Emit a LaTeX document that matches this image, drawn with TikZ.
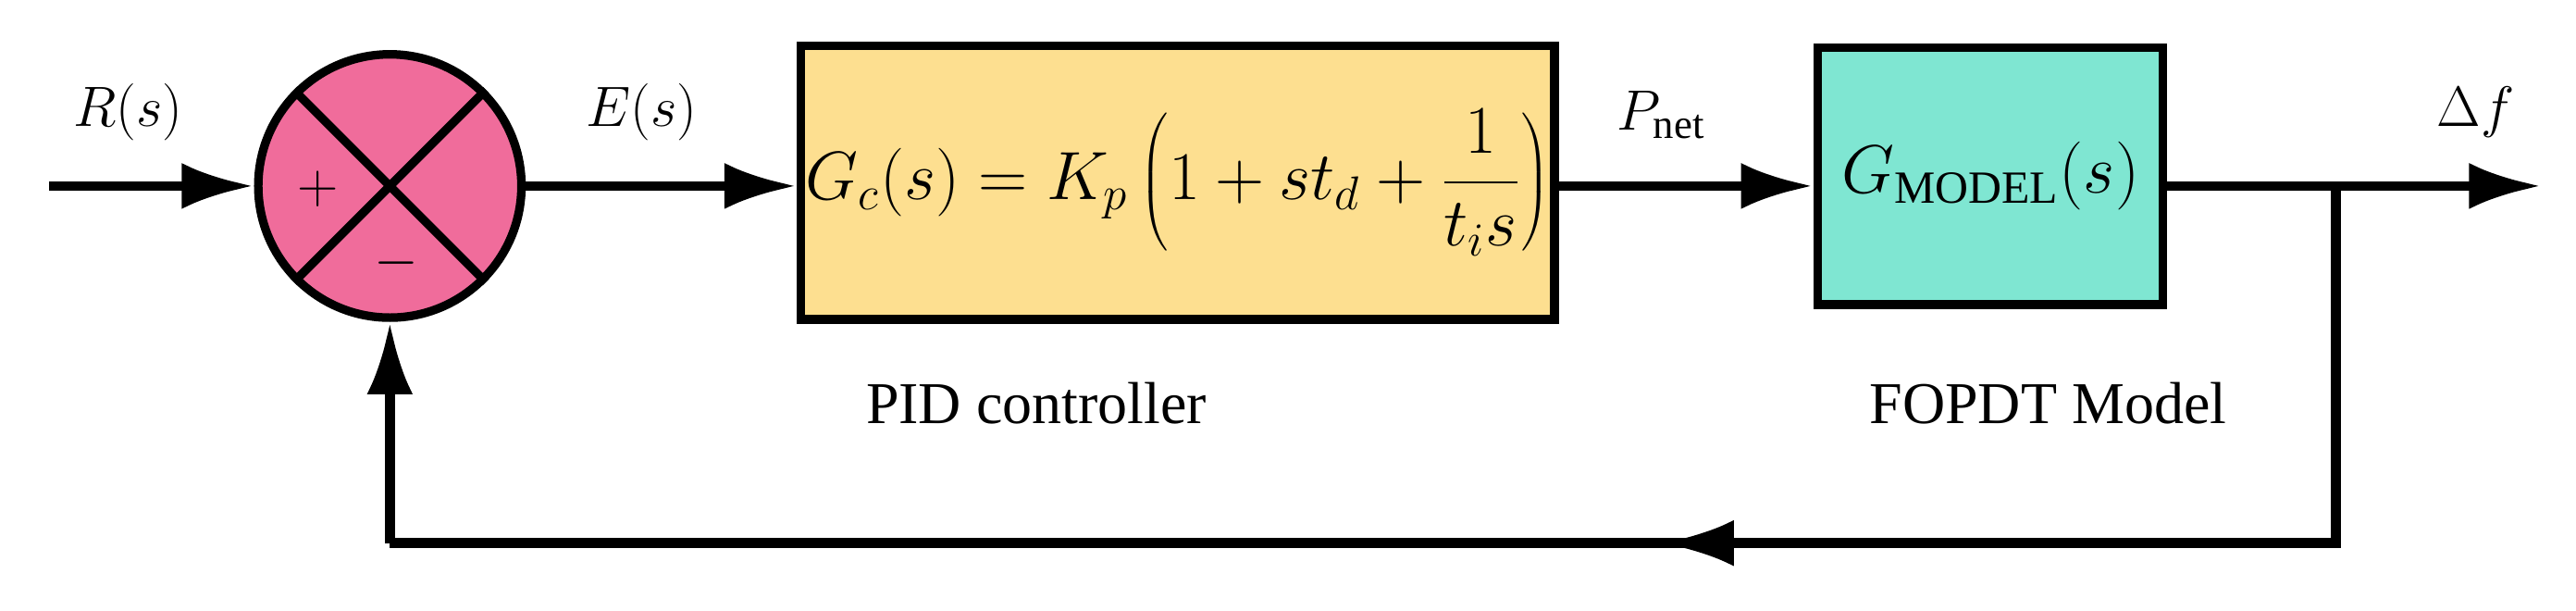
\documentclass[tikz,border=0pt]{standalone}
\usepackage{fontspec}
\setmainfont{Liberation Serif}
\usetikzlibrary{arrows.meta}
\definecolor{pinkc}{HTML}{F06C9B}
\definecolor{yelc}{HTML}{FDDF90}
\definecolor{tealc}{HTML}{7FE6D2}
\tikzset{
  blk/.style={draw,line width=2.6pt,inner sep=0pt},
  sig/.style={line width=3pt,-{Latex[length=22pt,width=14pt]}},
  wire/.style={line width=3pt},
  lbl/.style={font=\fontsize{18}{20}\selectfont}
}
\begin{document}
\begin{tikzpicture}[x=0.5pt,y=-0.5pt]
\useasboundingbox (0,0) rectangle (1566,371);
\node[blk,circle,fill=pinkc,minimum size=80pt] (sum) at (237,113) {};
\draw[line width=2.6pt] (sum.north west)--(sum.south east) (sum.north east)--(sum.south west);
\node[lbl] (plus) at (193,115) {$+$};
\node[lbl] (minus) at (241,160) {$-$};
\node[blk,fill=yelc,minimum width=229pt,minimum height=83pt] (pid) at (716,111) {};
\node[lbl,font=\fontsize{20.5}{24}\selectfont] (pidt) at (716,111) {$G_c(s)=K_p\left(1+st_d+\displaystyle\frac{1}{t_is}\right)$};
\node[blk,fill=tealc,minimum width=105pt,minimum height=78pt] (mod) at (1210,107) {};
\node[lbl,font=\fontsize{20}{22}\selectfont] (modt) at (1210,107) {$G_{\mathrm{MODEL}}(s)$};
\coordinate (in) at (30,113);
\coordinate (out) at (1545,113);
\coordinate (br) at (1420,113);
\coordinate (c1) at (1420,330);
\coordinate (c2) at (237,330);
\draw[sig] (in)--(sum.west);
\draw[sig] (sum.east)--(pid.west |- sum.east);
\draw[sig] (pid.east |- sum.east)--(mod.west |- sum.east);
\draw[sig] (mod.east |- sum.east)--(out);
\draw[wire] (br)--(c1)--(c2);
\draw[sig] (c1)--(1010,330);
\draw[sig] (c2)--(sum.south);
\node[lbl] (r) at (78,68) {$R(s)$};
\node[lbl] (e) at (390,68) {$E(s)$};
\node[lbl] (p) at (1010,70) {$P_{\mathrm{net}}$};
\node[lbl] (df) at (1505,68) {$\Delta f$};
\node[lbl] (pidl) at (630,245) {PID controller};
\node[lbl] (modl) at (1245,245) {FOPDT Model};
\end{tikzpicture}
\end{document}
